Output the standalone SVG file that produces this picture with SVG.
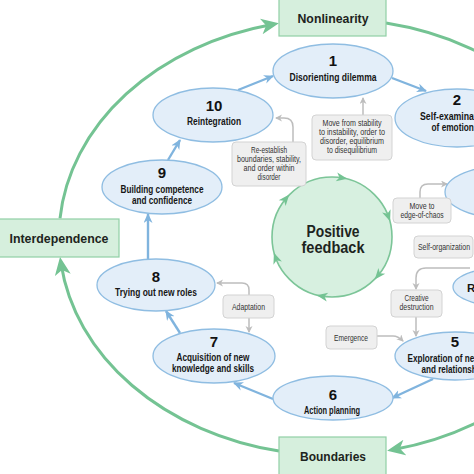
<svg xmlns="http://www.w3.org/2000/svg" width="474" height="474" viewBox="0 0 474 474">
  <style>
    .stage ellipse { fill: #e3eef9; stroke: #8fbde2; stroke-width: 1.3; }
    .num { font-family: "Liberation Sans", Arial, sans-serif; font-weight: bold; font-size: 15px; fill: #111; text-anchor: middle; }
    .lbl { font-family: "Liberation Sans Narrow", "Liberation Sans", Arial, sans-serif; font-weight: bold; font-size: 11.5px; fill: #161616; text-anchor: middle; }
    .note rect { fill: #efefef; stroke: #d3d3d3; stroke-width: 1; }
    .note text { font-family: "Liberation Sans Narrow", "Liberation Sans", Arial, sans-serif; font-size: 8.8px; fill: #333; text-anchor: middle; }
    .prop rect { fill: #d6efdd; stroke: #90cfa6; stroke-width: 1.2; }
    .prop text { font-family: "Liberation Sans", Arial, sans-serif; font-weight: bold; font-size: 13.5px; fill: #1d2420; text-anchor: middle; }
    .outer { fill: none; stroke: #74c393; stroke-width: 3; }
    .flow { fill: none; stroke: #80b4de; stroke-width: 2.4; }
    .link { fill: none; stroke: #bdbdbd; stroke-width: 1.5; }
  </style>
  <defs>
    <marker id="arrGreen" markerUnits="userSpaceOnUse" markerWidth="19" markerHeight="17" refX="11" refY="8" orient="auto">
      <path d="M0,0 L18,8 L0,16 L5,8 z" fill="#74c393"/>
    </marker>
    <marker id="arrBlue" markerUnits="userSpaceOnUse" markerWidth="11" markerHeight="10" refX="9" refY="4.5" orient="auto">
      <path d="M0,0 L10,4.5 L0,9 L3,4.5 z" fill="#80b4de"/>
    </marker>
    <marker id="arrGray" markerUnits="userSpaceOnUse" markerWidth="8" markerHeight="8" refX="6" refY="3.5" orient="auto">
      <path d="M0,0 L7,3.5 L0,7 L2,3.5 z" fill="#bdbdbd"/>
    </marker>
    <path id="fbHead" d="M-6,-4.5 L5,0 L-6,4.5 L-3,0 z" fill="#74c393"/>
  </defs>

  <!-- connectors -->
  <g id="connectors">
    <!-- outer cycle of system properties -->
    <path class="outer" d="M60,218.4 A274,218 0 0 1 272,24.5" marker-end="url(#arrGreen)"/>
    <path class="outer" d="M386,23.1 A274,218 0 0 1 394,449.5" marker-end="url(#arrGreen)"/>
    <path class="outer" d="M279,451 A274,218 0 0 1 61.1,264" marker-end="url(#arrGreen)"/>

    <!-- stage sequence -->
    <path class="flow" d="M238,90 L273,76" marker-end="url(#arrBlue)"/>
    <path class="flow" d="M392,78 L426,91" marker-end="url(#arrBlue)"/>
    <path class="flow" d="M433,379 L392,398" marker-end="url(#arrBlue)"/>
    <path class="flow" d="M273,399 L234,383" marker-end="url(#arrBlue)"/>
    <path class="flow" d="M180,333 L166,311" marker-end="url(#arrBlue)"/>
    <path class="flow" d="M148,259 L148,214" marker-end="url(#arrBlue)"/>
    <path class="flow" d="M168,160 L180,140" marker-end="url(#arrBlue)"/>

    <!-- annotation links -->
    <path class="link" d="M363,115 L363,98" marker-end="url(#arrGray)"/>
    <path class="link" d="M293,142 V127 Q293,118 284,118 L276,118" marker-end="url(#arrGray)"/>
    <path class="link" d="M420,198 V192 Q420,184 428,184 L447,184" marker-end="url(#arrGray)"/>
    <path class="link" d="M470,268 H426 Q416,268 416,278 L416,289" marker-end="url(#arrGray)"/>
    <path class="link" d="M416,317 L416,336" marker-end="url(#arrGray)"/>
    <path class="link" d="M377,336 H393 Q398,336 403,341" marker-end="url(#arrGray)"/>
    <path class="link" d="M249,295 V290 Q249,283 242,283 L217,283" marker-end="url(#arrGray)"/>
    <path class="link" d="M249,318 L249,332" marker-end="url(#arrGray)"/>
  </g>

  <!-- system properties -->
  <g id="nonlinearity" class="prop">
    <rect x="279" y="-1" width="107" height="37"/>
    <text x="333" y="22.5" textLength="71" lengthAdjust="spacingAndGlyphs">Nonlinearity</text>
  </g>
  <g id="interdependence" class="prop">
    <rect x="-1" y="219" width="120" height="38"/>
    <text x="59" y="242.5" textLength="99" lengthAdjust="spacingAndGlyphs">Interdependence</text>
  </g>
  <g id="boundaries" class="prop">
    <rect x="279" y="437" width="107" height="39"/>
    <text x="333" y="461" textLength="66" lengthAdjust="spacingAndGlyphs">Boundaries</text>
  </g>

  <!-- central feedback loop -->
  <g id="positive-feedback">
    <circle cx="332" cy="237" r="60" fill="#d7f0e0" stroke="#7cc598" stroke-width="1.6"/>
    <use href="#fbHead" transform="translate(332 237) rotate(-80) translate(60 0) rotate(90)"/>
    <use href="#fbHead" transform="translate(332 237) rotate(-20) translate(60 0) rotate(90)"/>
    <use href="#fbHead" transform="translate(332 237) rotate(40) translate(60 0) rotate(90)"/>
    <use href="#fbHead" transform="translate(332 237) rotate(100) translate(60 0) rotate(90)"/>
    <use href="#fbHead" transform="translate(332 237) rotate(160) translate(60 0) rotate(90)"/>
    <use href="#fbHead" transform="translate(332 237) rotate(220) translate(60 0) rotate(90)"/>
    <text x="333" y="237" font-family="Liberation Sans, Arial, sans-serif" font-weight="bold" font-size="16" fill="#1d2420" text-anchor="middle" textLength="53" lengthAdjust="spacingAndGlyphs">Positive</text>
    <text x="333" y="253" font-family="Liberation Sans, Arial, sans-serif" font-weight="bold" font-size="16" fill="#1d2420" text-anchor="middle" textLength="63" lengthAdjust="spacingAndGlyphs">feedback</text>
  </g>

  <!-- stages -->
  <g id="stage1" class="stage">
    <ellipse cx="333" cy="71" rx="60" ry="27"/>
    <text class="num" x="333" y="66">1</text>
    <text class="lbl" x="333" y="80.5" textLength="87" lengthAdjust="spacingAndGlyphs">Disorienting dilemma</text>
  </g>
  <g id="stage2" class="stage">
    <ellipse cx="457" cy="118" rx="62" ry="29"/>
    <text class="num" x="457" y="105">2</text>
    <text class="lbl" x="455" y="119.5" textLength="70" lengthAdjust="spacingAndGlyphs">Self-examination</text>
    <text class="lbl" x="455" y="130.5" textLength="47" lengthAdjust="spacingAndGlyphs">of emotions</text>
  </g>
  <g id="stage3" class="stage">
    <ellipse cx="510" cy="192" rx="65" ry="27"/>
  </g>
  <g id="stage4" class="stage">
    <ellipse cx="515" cy="287" rx="62" ry="21"/>
    <text class="lbl" x="467" y="291.5" style="text-anchor:start">R</text>
  </g>
  <g id="stage5" class="stage">
    <ellipse cx="455" cy="356" rx="60" ry="24"/>
    <text class="num" x="455" y="347">5</text>
    <text class="lbl" x="455" y="361.5" textLength="95" lengthAdjust="spacingAndGlyphs">Exploration of new roles</text>
    <text class="lbl" x="455" y="372.5" textLength="67" lengthAdjust="spacingAndGlyphs">and relationships</text>
  </g>
  <g id="stage6" class="stage">
    <ellipse cx="333" cy="398" rx="60" ry="22"/>
    <text class="num" x="333" y="400">6</text>
    <text class="lbl" x="332" y="413.5" textLength="56" lengthAdjust="spacingAndGlyphs">Action planning</text>
  </g>
  <g id="stage7" class="stage">
    <ellipse cx="214" cy="356" rx="61" ry="27"/>
    <text class="num" x="214" y="347">7</text>
    <text class="lbl" x="213" y="360.5" textLength="73" lengthAdjust="spacingAndGlyphs">Acquisition of new</text>
    <text class="lbl" x="213" y="371.5" textLength="82" lengthAdjust="spacingAndGlyphs">knowledge and skills</text>
  </g>
  <g id="stage8" class="stage">
    <ellipse cx="156" cy="285" rx="59" ry="26"/>
    <text class="num" x="156" y="282">8</text>
    <text class="lbl" x="156" y="295.5" textLength="82" lengthAdjust="spacingAndGlyphs">Trying out new roles</text>
  </g>
  <g id="stage9" class="stage">
    <ellipse cx="162" cy="187" rx="60" ry="27"/>
    <text class="num" x="162" y="178">9</text>
    <text class="lbl" x="162" y="192.5" textLength="83" lengthAdjust="spacingAndGlyphs">Building competence</text>
    <text class="lbl" x="162" y="203.5" textLength="60" lengthAdjust="spacingAndGlyphs">and confidence</text>
  </g>
  <g id="stage10" class="stage">
    <ellipse cx="213" cy="115" rx="60" ry="27"/>
    <text class="num" x="214" y="111">10</text>
    <text class="lbl" x="214" y="124.5" textLength="54" lengthAdjust="spacingAndGlyphs">Reintegration</text>
  </g>

  <!-- annotations -->
  <g id="note-instability" class="note">
    <rect x="312" y="115" width="80" height="45" rx="4"/>
    <text x="352" y="126" textLength="59" lengthAdjust="spacingAndGlyphs">Move from stability</text>
    <text x="352" y="135" textLength="66" lengthAdjust="spacingAndGlyphs">to instability, order to</text>
    <text x="352" y="144" textLength="64" lengthAdjust="spacingAndGlyphs">disorder, equilibrium</text>
    <text x="352" y="153" textLength="50" lengthAdjust="spacingAndGlyphs">to disequilibrium</text>
  </g>
  <g id="note-reestablish" class="note">
    <rect x="232" y="142" width="74" height="44" rx="4"/>
    <text x="269" y="153" textLength="36" lengthAdjust="spacingAndGlyphs">Re-establish</text>
    <text x="269" y="162" textLength="64" lengthAdjust="spacingAndGlyphs">boundaries, stability,</text>
    <text x="269" y="171" textLength="51" lengthAdjust="spacingAndGlyphs">and order within</text>
    <text x="269" y="180" textLength="23" lengthAdjust="spacingAndGlyphs">disorder</text>
  </g>
  <g id="note-edge" class="note">
    <rect x="393" y="198" width="58" height="25" rx="4"/>
    <text x="422" y="209" textLength="25" lengthAdjust="spacingAndGlyphs">Move to</text>
    <text x="422" y="218" textLength="43" lengthAdjust="spacingAndGlyphs">edge-of-chaos</text>
  </g>
  <g id="note-selforg" class="note">
    <rect x="414" y="236" width="59" height="22" rx="4"/>
    <text x="444" y="250" textLength="52" lengthAdjust="spacingAndGlyphs">Self-organization</text>
  </g>
  <g id="note-creative" class="note">
    <rect x="391" y="290" width="51" height="27" rx="4"/>
    <text x="416.5" y="301" textLength="24" lengthAdjust="spacingAndGlyphs">Creative</text>
    <text x="416.5" y="310" textLength="34" lengthAdjust="spacingAndGlyphs">destruction</text>
  </g>
  <g id="note-emergence" class="note">
    <rect x="326" y="326" width="51" height="23" rx="4"/>
    <text x="351" y="340.5" textLength="34" lengthAdjust="spacingAndGlyphs">Emergence</text>
  </g>
  <g id="note-adaptation" class="note">
    <rect x="223" y="295" width="51" height="23" rx="4"/>
    <text x="248.5" y="309.5" textLength="33" lengthAdjust="spacingAndGlyphs">Adaptation</text>
  </g>
</svg>
